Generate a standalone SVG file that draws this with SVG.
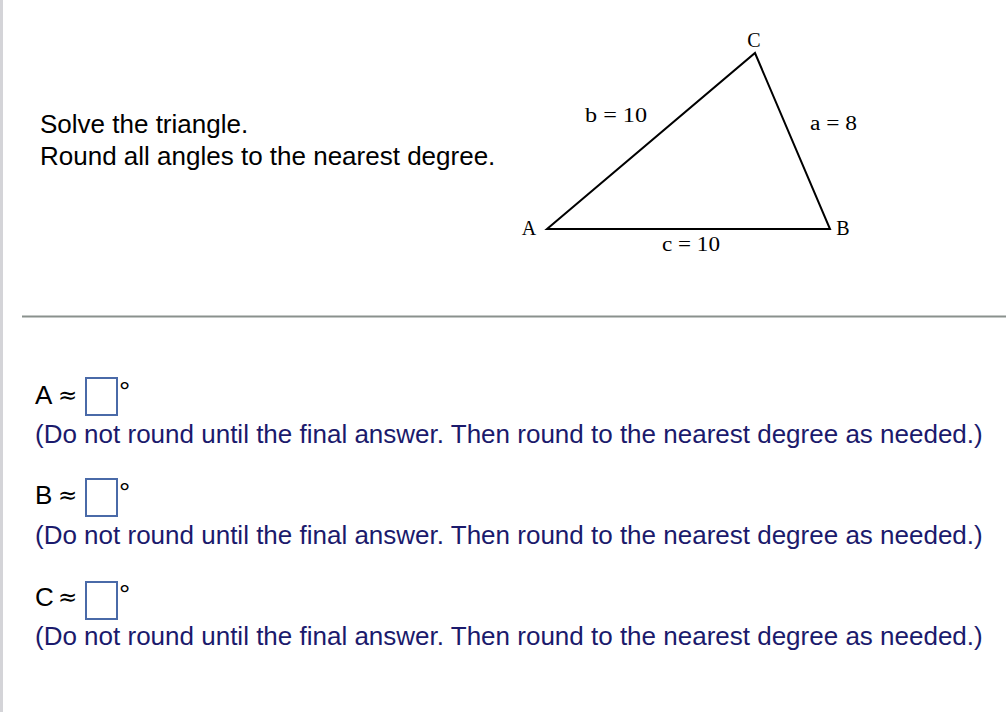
<svg xmlns="http://www.w3.org/2000/svg" width="1006" height="727" viewBox="0 0 1006 727">
<style>
.q{font-family:"Liberation Sans",Arial,sans-serif;font-size:26px;fill:#000}
.h{font-family:"Liberation Sans",Arial,sans-serif;font-size:26px;fill:#1b1a6c}
.t{font-family:"Liberation Serif","Times New Roman",serif;font-size:20px;fill:#000}
.box{fill:#fff;stroke:#4a6aa8;stroke-width:2}
.deg{font-family:"Liberation Sans",Arial,sans-serif;font-size:28px;fill:#000}
.ap{font-family:"DejaVu Sans",sans-serif;font-size:23px;fill:#000}
</style>
<rect width="1006" height="727" fill="#fff"/>
<line x1="1.5" y1="0" x2="1.5" y2="712" stroke="#d4d4d8" stroke-width="3"/>
<g id="prompt">
<text class="q" x="40" y="133">Solve the triangle.</text>
<text class="q" x="40" y="165">Round all angles to the nearest degree.</text>
</g>
<g id="triangle">
<polygon points="547,229 830,229 755,53" fill="none" stroke="#000" stroke-width="2"/>
<text class="t" x="754" y="47" text-anchor="middle">C</text>
<text class="t" x="529" y="235" text-anchor="middle">A</text>
<text class="t" x="843" y="235" text-anchor="middle">B</text>
<text class="t" x="585" y="122" textLength="62" lengthAdjust="spacingAndGlyphs">b = 10</text>
<text class="t" x="810" y="130" textLength="47" lengthAdjust="spacingAndGlyphs">a = 8</text>
<text class="t" x="662" y="251" textLength="58" lengthAdjust="spacingAndGlyphs">c = 10</text>
</g>
<line x1="22" y1="316.5" x2="1006" y2="316.5" stroke="#8a918d" stroke-width="2"/>
<g id="answerA">
<text class="q" x="35" y="404">A</text>
<text class="ap" x="58" y="403">≈</text>
<rect class="box" x="86" y="378" width="31" height="37"/>
<text class="deg" x="119" y="401">°</text>
<text class="h" x="35" y="443">(Do not round until the final answer. Then round to the nearest degree as needed.)</text>
</g>
<g id="answerB">
<text class="q" x="35" y="504">B</text>
<text class="ap" x="58" y="503">≈</text>
<rect class="box" x="86" y="479" width="31" height="37"/>
<text class="deg" x="119" y="502">°</text>
<text class="h" x="35" y="544">(Do not round until the final answer. Then round to the nearest degree as needed.)</text>
</g>
<g id="answerC">
<text class="q" x="35" y="606">C</text>
<text class="ap" x="58" y="605">≈</text>
<rect class="box" x="86" y="582" width="31" height="37"/>
<text class="deg" x="119" y="604">°</text>
<text class="h" x="35" y="645">(Do not round until the final answer. Then round to the nearest degree as needed.)</text>
</g>
</svg>
